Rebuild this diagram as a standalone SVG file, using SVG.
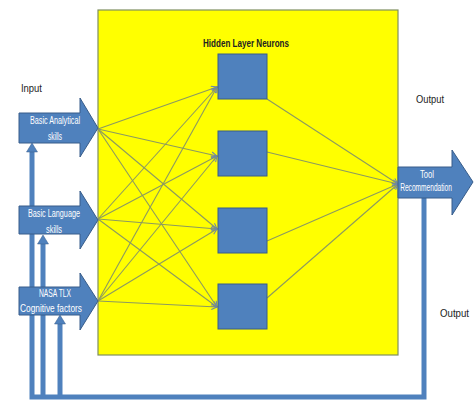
<svg xmlns="http://www.w3.org/2000/svg" width="474" height="412" viewBox="0 0 474 412">
<style>
.blk{fill:#4F81BD;stroke:#385D8A;stroke-width:1}
.fb{fill:none;stroke:#4F81BD;stroke-width:5}
.con{stroke:#8C9A60;stroke-width:1.1;fill:none}
.lbl{font-family:"Liberation Sans",Arial,sans-serif;fill:#222}
.wt{font-family:"Liberation Sans",Arial,sans-serif;fill:#fff;font-size:10px;text-anchor:middle}
</style>
<defs>
<marker id="ah" viewBox="0 0 10 10" refX="9" refY="5" markerWidth="7" markerHeight="7" orient="auto" markerUnits="userSpaceOnUse">
<path d="M1,1 L9,5 L1,9" fill="none" stroke="#6E86A8" stroke-width="1.5"/>
</marker>
</defs>
<rect width="474" height="412" fill="#fff"/>
<rect id="hidden-layer" x="98" y="10" width="300" height="345" fill="#FFFF00" stroke="#7F8F5F" stroke-width="1.2"/>
<g id="feedback">
<path class="fb" d="M424,198 V397 H32 V150" stroke-linejoin="miter"/>
<path class="fb" d="M43,397 V242"/>
<path class="fb" d="M60,397 V322"/>
<polygon points="32,143 26.5,152 37.5,152" fill="#4F81BD" stroke="#385D8A" stroke-width="0.5"/>
<polygon points="43,235 37.5,244 48.5,244" fill="#4F81BD" stroke="#385D8A" stroke-width="0.5"/>
<polygon points="60,315 54.5,324 65.5,324" fill="#4F81BD" stroke="#385D8A" stroke-width="0.5"/>
</g>
<g id="connectors">
<line class="con" x1="98" y1="129" x2="217" y2="87" marker-end="url(#ah)"/>
<line class="con" x1="98" y1="129" x2="217" y2="156" marker-end="url(#ah)"/>
<line class="con" x1="98" y1="129" x2="217" y2="229" marker-end="url(#ah)"/>
<line class="con" x1="98" y1="129" x2="217" y2="307" marker-end="url(#ah)"/>
<line class="con" x1="98" y1="219" x2="217" y2="87" marker-end="url(#ah)"/>
<line class="con" x1="98" y1="219" x2="217" y2="156" marker-end="url(#ah)"/>
<line class="con" x1="98" y1="219" x2="217" y2="229" marker-end="url(#ah)"/>
<line class="con" x1="98" y1="219" x2="217" y2="307" marker-end="url(#ah)"/>
<line class="con" x1="98" y1="301" x2="217" y2="87" marker-end="url(#ah)"/>
<line class="con" x1="98" y1="301" x2="217" y2="156" marker-end="url(#ah)"/>
<line class="con" x1="98" y1="301" x2="217" y2="229" marker-end="url(#ah)"/>
<line class="con" x1="98" y1="301" x2="217" y2="307" marker-end="url(#ah)"/>
<line class="con" x1="267" y1="99" x2="398" y2="184" marker-end="url(#ah)"/>
<line class="con" x1="267" y1="152" x2="398" y2="184" marker-end="url(#ah)"/>
<line class="con" x1="267" y1="241" x2="398" y2="184" marker-end="url(#ah)"/>
<line class="con" x1="267" y1="298" x2="398" y2="184" marker-end="url(#ah)"/>
</g>
<g id="input1">
<polygon class="blk" points="19,113 80,113 80,98 98,128 80,157 80,143 19,143"/>
<text class="wt" x="55" y="124" textLength="50" lengthAdjust="spacingAndGlyphs">Basic Analytical</text>
<text class="wt" x="55" y="140" textLength="14" lengthAdjust="spacingAndGlyphs">skills</text>
</g>
<g id="input2">
<polygon class="blk" points="19,206 80,206 80,191 98,220 80,249 80,234 19,234"/>
<text class="wt" x="54" y="217" textLength="52" lengthAdjust="spacingAndGlyphs">Basic Language</text>
<text class="wt" x="54" y="233" textLength="16" lengthAdjust="spacingAndGlyphs">skills</text>
</g>
<g id="input3">
<polygon class="blk" points="19,287 80,287 80,273 98,301 80,330 80,315 19,315"/>
<text class="wt" x="55" y="297" textLength="32" lengthAdjust="spacingAndGlyphs">NASA TLX</text>
<text class="wt" x="51" y="312" textLength="62" lengthAdjust="spacingAndGlyphs">Cognitive factors</text>
</g>
<g id="neuron1"><rect class="blk" x="218" y="54" width="49" height="45"/></g>
<g id="neuron2"><rect class="blk" x="218" y="131" width="49" height="45"/></g>
<g id="neuron3"><rect class="blk" x="218" y="208" width="49" height="45"/></g>
<g id="neuron4"><rect class="blk" x="218" y="284" width="49" height="45"/></g>
<g id="output">
<polygon class="blk" points="398,167 452,167 452,150 473,182 452,215 452,198 398,198"/>
<text class="wt" x="427" y="178" textLength="14" lengthAdjust="spacingAndGlyphs">Tool</text>
<text class="wt" transform="translate(426,191) scale(0.66,1)" x="0" y="0" font-size="9.5">Recommendation</text>
</g>
<g id="labels">
<text class="lbl" x="21" y="92" font-size="11" textLength="21" lengthAdjust="spacingAndGlyphs">Input</text>
<text class="lbl" x="203" y="47" font-size="11" font-weight="bold" textLength="86" lengthAdjust="spacingAndGlyphs">Hidden Layer Neurons</text>
<text class="lbl" x="416" y="103" font-size="11" textLength="28" lengthAdjust="spacingAndGlyphs">Output</text>
<text class="lbl" x="440" y="317" font-size="11" textLength="29" lengthAdjust="spacingAndGlyphs">Output</text>
</g>
</svg>
